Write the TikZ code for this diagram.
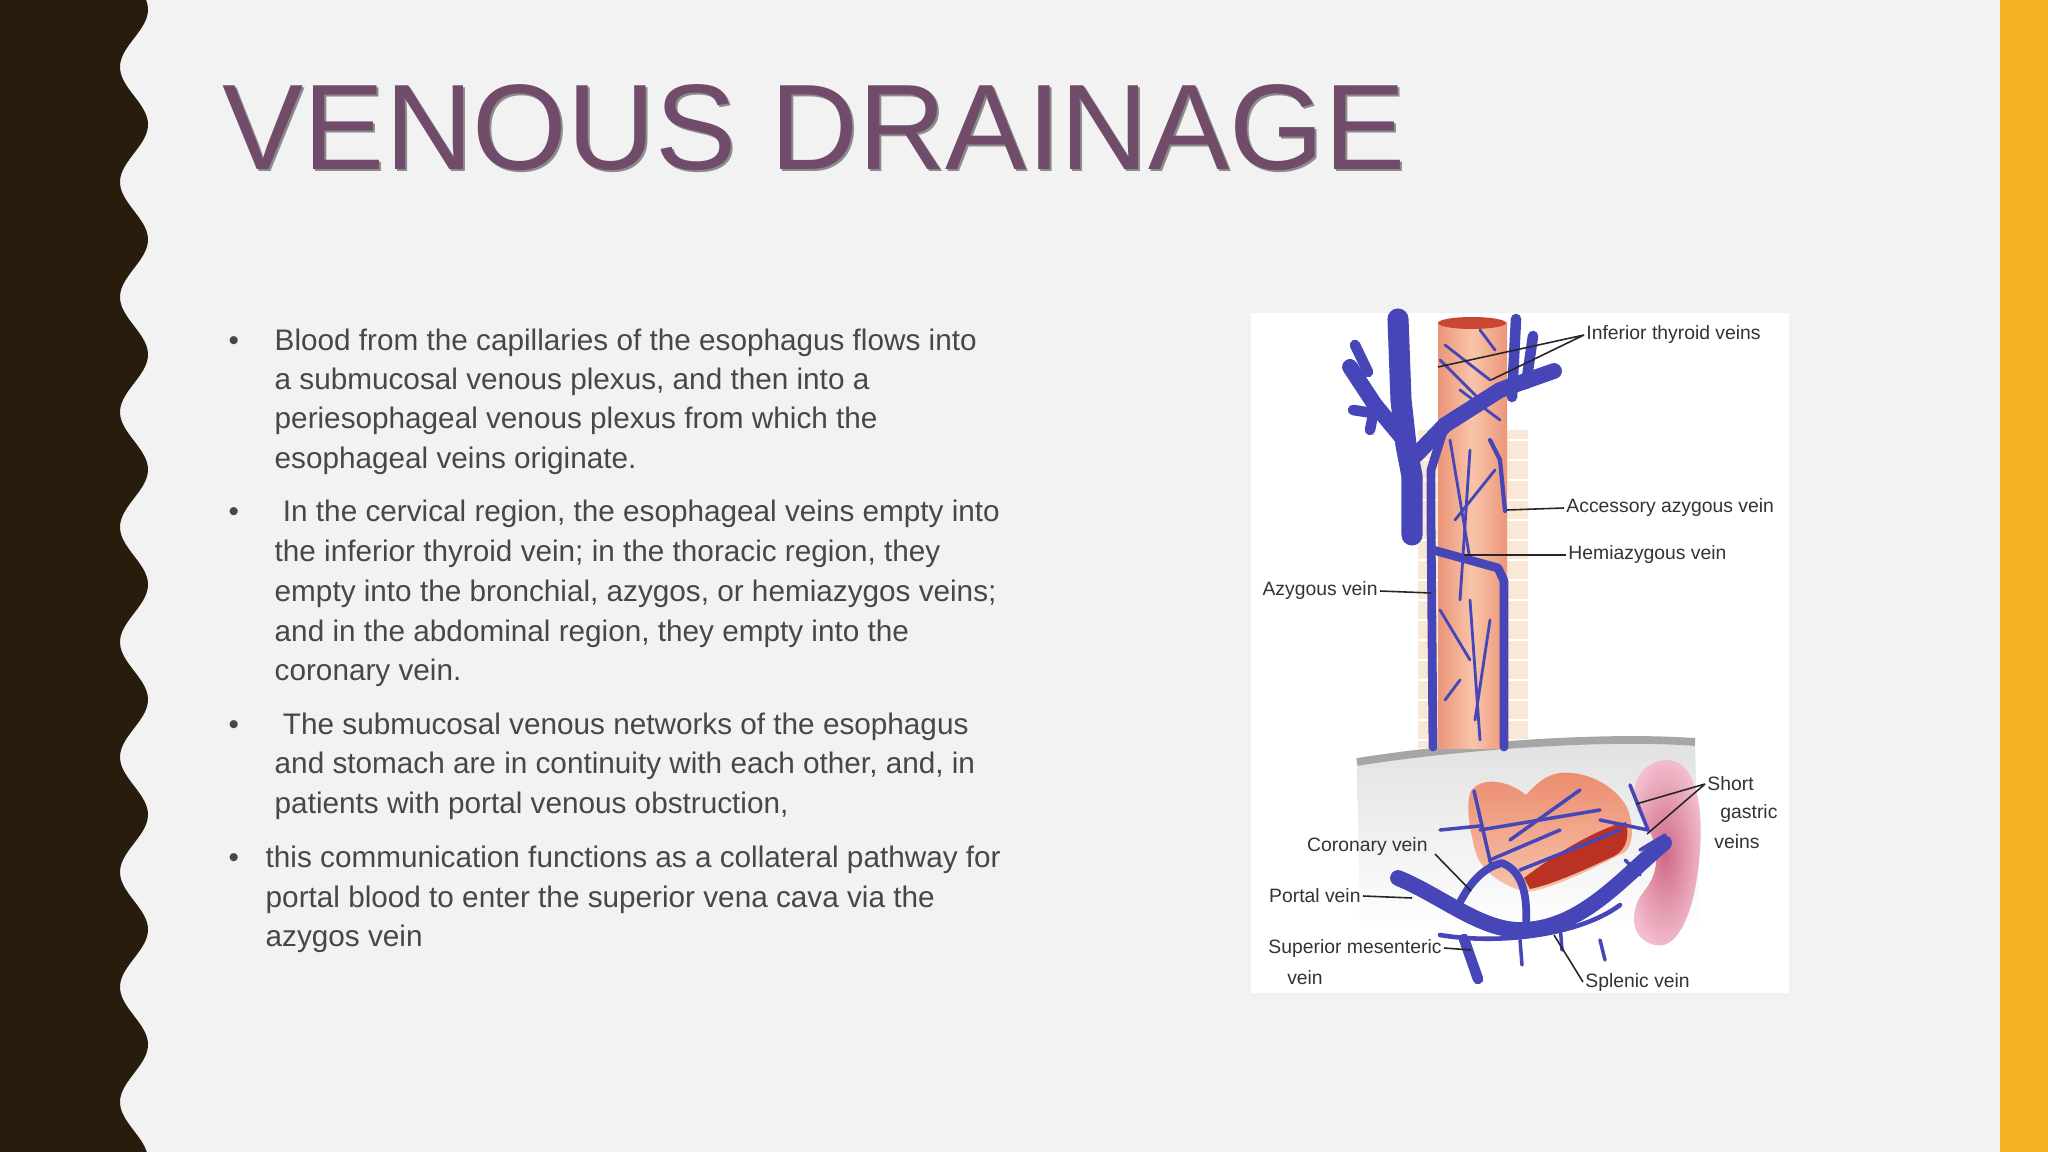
\documentclass[tikz,border=0pt]{standalone}
\usepackage{fontspec}
\setmainfont{Liberation Sans}
\begin{document}
\begin{tikzpicture}[x=0.01cm,y=-0.01cm,
  body/.style={font=\fontsize{8.45}{10}\selectfont, text=black!72, anchor=base west, inner sep=0},
  lab/.style={font=\fontsize{5.5}{6}\selectfont, text=black!80, inner sep=0.5pt},
  lead/.style={draw=black!85, line width=0.45pt}]
\definecolor{veinc}{HTML}{4646B8}
\definecolor{flesh}{RGB}{236,150,120}
\definecolor{fleshl}{RGB}{248,196,170}
\tikzset{vein/.style={draw=veinc, line cap=round, line join=round}}
\useasboundingbox (0,0) rectangle (2048,1152);
\fill[black!5] (0,0) rectangle (2048,1152);
\fill[color={rgb,255:red,244;green,178;blue,35}] (2000,0) rectangle (2048,1152);
\fill[color={rgb,255:red,40;green,28;blue,12}] (0,0) -- plot[domain=0:1152,samples=200,smooth] ({134+14*sin(3.1304*\x+60)},\x) -- (0,1152) -- cycle;
% title
\node[font=\fontsize{34.6}{40}\selectfont, text=black!45, anchor=base west, inner sep=0] at (224,172) {VENOUS DRAINAGE};
\node[font=\fontsize{34.6}{40}\selectfont, text={rgb,255:red,112;green,76;blue,106}, anchor=base west, inner sep=0] (title) at (222,170) {VENOUS DRAINAGE};
% bullets
\foreach \y in {351,522,734,867} \node[body] at (228,\y) {•};
\node[body] (b1) at (274,351) {Blood from the capillaries of the esophagus flows into};
\node[body] at (274,390) {a submucosal venous plexus, and then into a};
\node[body] at (274,429) {periesophageal venous plexus from which the};
\node[body] at (274,469) {esophageal veins originate.};
\node[body] (b2) at (274,522) {\ In the cervical region, the esophageal veins empty into};
\node[body] at (274,562) {the inferior thyroid vein; in the thoracic region, they};
\node[body] at (274,601) {empty into the bronchial, azygos, or hemiazygos veins;};
\node[body] at (274,641) {and in the abdominal region, they empty into the};
\node[body] at (274,680) {coronary vein.};
\node[body] (b3) at (274,734) {\ The submucosal venous networks of the esophagus};
\node[body] at (274,773) {and stomach are in continuity with each other, and, in};
\node[body] at (274,813) {patients with portal venous obstruction,};
\node[body] (b4) at (265,867) {this communication functions as a collateral pathway for};
\node[body] at (265,907) {portal blood to enter the superior vena cava via the};
\node[body] at (265,946) {azygos vein};
% figure
\fill[white] (1251,313) rectangle (1789,993);
\fill[color={rgb,255:red,250;green,232;blue,215}] (1418,430) rectangle (1528,748);
\foreach \yy in {440,460,...,740} \draw[white,line width=0.6pt] (1418,\yy) -- (1438,\yy) (1507,\yy) -- (1528,\yy);
% diaphragm region
\shade[top color=black!12, bottom color=white] (1357,760) .. controls (1450,745) and (1600,735) .. (1695,742) -- (1700,930) -- (1360,930) -- cycle;
\draw[black!35,line width=2.2pt] (1357,762) .. controls (1450,747) and (1600,735) .. (1695,742);
% esophagus
\shade[left color=flesh, right color=flesh, middle color=fleshl] (1438,323) rectangle (1507,748);
\fill[color={rgb,255:red,200;green,70;blue,50}] (1472,323) ellipse (34 and 6);
% stomach
\shade[top color={rgb,255:red,236;green,140;blue,110}, bottom color={rgb,255:red,246;green,195;blue,170}]
 (1471,791) .. controls (1480,778) and (1505,778) .. (1526,795) .. controls (1535,785) and (1545,775) .. (1560,773) .. controls (1590,770) and (1620,790) .. (1628,810) .. controls (1635,830) and (1632,845) .. (1625,852) .. controls (1590,870) and (1550,890) .. (1526,892) .. controls (1500,885) and (1480,870) .. (1475,850) .. controls (1470,830) and (1465,805) .. (1471,791) -- cycle;
\fill[color={rgb,255:red,185;green,50;blue,35}] (1524,878) .. controls (1560,850) and (1600,828) .. (1626,822) .. controls (1630,840) and (1625,852) .. (1610,858) .. controls (1580,872) and (1550,885) .. (1530,889) -- cycle;
% spleen
\shade[inner color={rgb,255:red,208;green,105;blue,135}, outer color={rgb,255:red,242;green,190;blue,205}]
 (1665,760) .. controls (1700,758) and (1705,820) .. (1698,870) .. controls (1692,920) and (1675,950) .. (1655,945) .. controls (1630,940) and (1628,910) .. (1645,890) .. controls (1665,865) and (1655,835) .. (1640,815) .. controls (1625,790) and (1640,762) .. (1665,760) -- cycle;
% upper veins
\draw[vein,line width=6pt] (1398,319) -- (1401,400) -- (1406,445) -- (1412,476) -- (1412,535);
\draw[vein,line width=4.5pt] (1350,367) -- (1375,405) -- (1404,440);
\draw[vein,line width=3pt] (1353,410) -- (1385,415) (1355,345) -- (1368,372) (1375,405) -- (1370,430);
\draw[vein,line width=4.5pt] (1554,371) -- (1500,390) -- (1445,425) -- (1416,455);
\draw[vein,line width=3pt] (1516,319) -- (1512,397) (1533,336) -- (1526,384);
\draw[vein,line width=2.5pt] (1445,425) -- (1431,470) -- (1431,520);
\draw[vein,line width=2.5pt] (1431,520) -- (1433,747);
\draw[vein,line width=2.5pt] (1433,550) -- (1498,568) -- (1504,581) -- (1504,747);
\draw[vein,line width=1.2pt] (1505,511) -- (1500,460) -- (1490,440);
\foreach \a/\b/\c/\d in {1440/360/1480/400, 1450/440/1470/560, 1470/450/1460/600, 1455/520/1495/470, 1440/610/1470/660, 1470/600/1480/740, 1445/700/1460/680, 1490/620/1475/720, 1445/345/1490/380, 1480/330/1495/350, 1460/390/1500/420}
 \draw[vein,line width=0.8pt] (\a,\b) -- (\c,\d);
% lower veins
\draw[vein,line width=4.5pt] (1398,878) .. controls (1440,895) and (1480,930) .. (1520,930) .. controls (1580,930) and (1620,880) .. (1664,843);
\draw[vein,line width=3pt] (1464,939) -- (1478,979);
\draw[vein,line width=2.2pt] (1457,909) .. controls (1465,890) and (1480,868) .. (1502,863) .. controls (1520,870) and (1528,890) .. (1526,925);
\draw[vein,line width=1.3pt] (1440,935) .. controls (1500,945) and (1580,935) .. (1620,905);
\foreach \a/\b/\c/\d in {1491/865/1474/791, 1490/860/1560/830, 1440/830/1480/826, 1480/830/1600/810, 1520/870/1620/830, 1510/840/1580/790, 1600/820/1648/830, 1640/850/1665/835, 1625/860/1640/875, 1600/940/1605/960, 1560/925/1562/950, 1630/785/1648/830, 1520/940/1522/965}
 \draw[vein,line width=1pt] (\a,\b) -- (\c,\d);
% labels
\node[lab,anchor=west] (ith) at (1584,335) {Inferior thyroid veins};
\draw[lead] (ith.west) -- (1438,367) (ith.west) -- (1491,380);
\node[lab,anchor=west] (acc) at (1564,508) {Accessory azygous vein};
\draw[lead] (acc.west) -- (1507,510);
\node[lab,anchor=west] (hem) at (1566,555) {Hemiazygous vein};
\draw[lead] (hem.west) -- (1464,555);
\node[lab,anchor=east] (azy) at (1380,591) {Azygous vein};
\draw[lead] (azy.east) -- (1431,593);
\node[lab,anchor=west] (sg) at (1705,784) {Short};
\node[lab,anchor=west] at (1718,813) {gastric};
\node[lab,anchor=west] at (1712,842) {veins};
\draw[lead] (sg.west) -- (1636,804) (sg.west) -- (1647,834);
\node[lab,anchor=east] (cor) at (1430,846) {Coronary vein};
\draw[lead] (1435,854) -- (1471,891);
\node[lab,anchor=east] (por) at (1363,896) {Portal vein};
\draw[lead] (por.east) -- (1412,898);
\node[lab,anchor=west] (smv) at (1266,948) {Superior mesenteric};
\node[lab] at (1305,978) {vein};
\draw[lead] (smv.east) -- (1471,950);
\node[lab,anchor=west] (spl) at (1583,982) {Splenic vein};
\draw[lead] (spl.west) -- (1554,935);
\end{tikzpicture}
\end{document}
